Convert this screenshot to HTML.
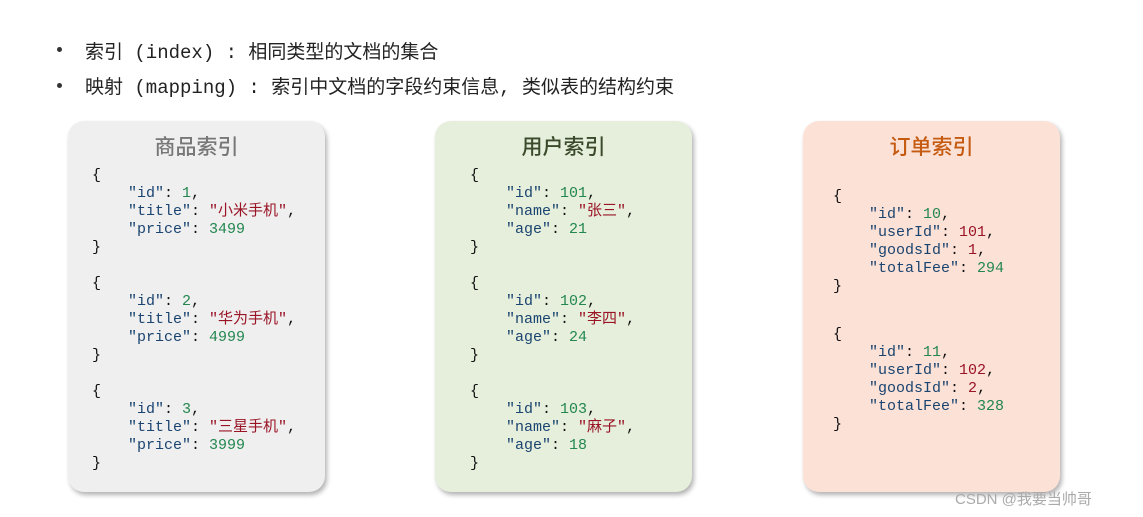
<!DOCTYPE html>
<html><head><meta charset="utf-8"><style>
body{margin:0;width:1143px;height:517px;background:#fff;position:relative;overflow:hidden;font-family:"Liberation Sans","Noto Sans CJK SC",sans-serif}
.b{position:absolute;left:85px;font-size:19px;color:#222;white-space:pre;font-family:"Liberation Mono","Noto Sans CJK SC",monospace}
.dot{position:absolute;left:57px;width:5px;height:5px;border-radius:50%;background:#333}
.card{position:absolute;top:121px;width:257px;height:371px;border-radius:16px;box-shadow:2px 3px 5px rgba(0,0,0,.3)}
.t{position:absolute;top:131px;width:257px;text-align:center;font-size:21px;font-weight:500}
.c{position:absolute;font-family:"Liberation Mono","Noto Sans CJK SC",monospace;font-size:15px;line-height:18px;white-space:pre;color:#111}
.k{color:#1a4470}.n{color:#23874f}.s{color:#9a1426}
</style></head><body>
<div class="dot" style="top:47px"></div><div class="b" style="top:37px">索引 (index) : 相同类型的文档的集合</div>
<div class="dot" style="top:83px"></div><div class="b" style="top:72px">映射 (mapping) : 索引中文档的字段约束信息, 类似表的结构约束</div>

<div class="card" style="left:68px;background:#efefef"></div>
<div class="t" style="left:68px;color:#777">商品索引</div>
<div class="c" style="left:92px;top:167px">{
    <span class="k">"id"</span>: <span class="n">1</span>,
    <span class="k">"title"</span>: <span class="s">"小米手机"</span>,
    <span class="k">"price"</span>: <span class="n">3499</span>
}

{
    <span class="k">"id"</span>: <span class="n">2</span>,
    <span class="k">"title"</span>: <span class="s">"华为手机"</span>,
    <span class="k">"price"</span>: <span class="n">4999</span>
}

{
    <span class="k">"id"</span>: <span class="n">3</span>,
    <span class="k">"title"</span>: <span class="s">"三星手机"</span>,
    <span class="k">"price"</span>: <span class="n">3999</span>
}</div>

<div class="card" style="left:435px;background:#e6efdc"></div>
<div class="t" style="left:435px;color:#3b4a2b">用户索引</div>
<div class="c" style="left:470px;top:167px">{
    <span class="k">"id"</span>: <span class="n">101</span>,
    <span class="k">"name"</span>: <span class="s">"张三"</span>,
    <span class="k">"age"</span>: <span class="n">21</span>
}

{
    <span class="k">"id"</span>: <span class="n">102</span>,
    <span class="k">"name"</span>: <span class="s">"李四"</span>,
    <span class="k">"age"</span>: <span class="n">24</span>
}

{
    <span class="k">"id"</span>: <span class="n">103</span>,
    <span class="k">"name"</span>: <span class="s">"麻子"</span>,
    <span class="k">"age"</span>: <span class="n">18</span>
}</div>

<div class="card" style="left:803px;background:#fce1d7"></div>
<div class="t" style="left:803px;color:#c55a11">订单索引</div>
<div class="c" style="left:833px;top:188px">{
    <span class="k">"id"</span>: <span class="n">10</span>,
    <span class="k">"userId"</span>: <span class="s">101</span>,
    <span class="k">"goodsId"</span>: <span class="s">1</span>,
    <span class="k">"totalFee"</span>: <span class="n">294</span>
}</div>
<div class="c" style="left:833px;top:326px">{
    <span class="k">"id"</span>: <span class="n">11</span>,
    <span class="k">"userId"</span>: <span class="s">102</span>,
    <span class="k">"goodsId"</span>: <span class="s">2</span>,
    <span class="k">"totalFee"</span>: <span class="n">328</span>
}</div>

<div style="position:absolute;left:955px;top:488px;font-size:15px;color:#aaa">CSDN @我要当帅哥</div>
</body></html>
